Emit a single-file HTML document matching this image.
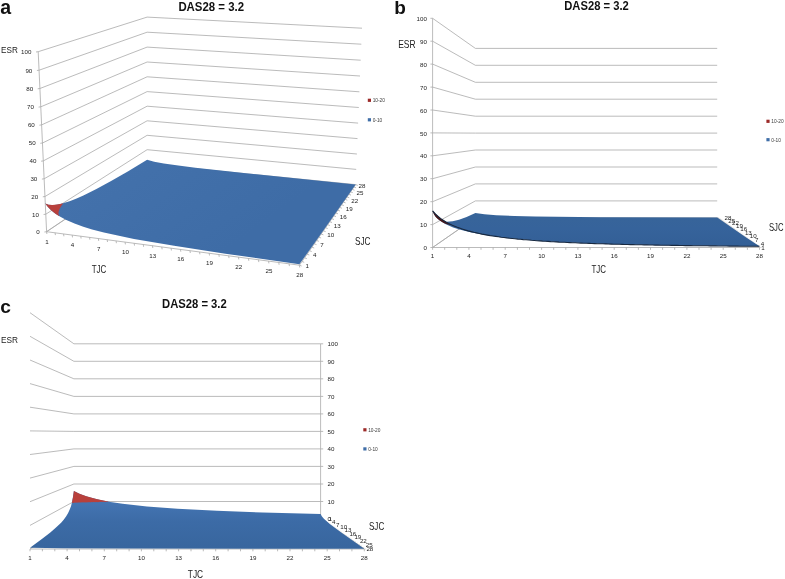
<!DOCTYPE html>
<html lang="en"><head><meta charset="utf-8"><title>DAS28 = 3.2</title>
<style>
html,body{margin:0;padding:0;background:#fff}
body{width:785px;height:579px;overflow:hidden}
svg{display:block;font-family:"Liberation Sans","DejaVu Sans",sans-serif}
</style></head><body>
<svg width="785" height="579" viewBox="0 0 785 579">
<defs>
<linearGradient id="ga" gradientUnits="userSpaceOnUse" x1="120" y1="160" x2="200" y2="270"><stop offset="0" stop-color="#4371ab"/><stop offset="1" stop-color="#3e6ca6"/></linearGradient>
<linearGradient id="gb" gradientUnits="userSpaceOnUse" x1="0" y1="210" x2="0" y2="247"><stop offset="0" stop-color="#386599"/><stop offset="0.5" stop-color="#36639b"/><stop offset="1" stop-color="#335f96"/></linearGradient>
<linearGradient id="gc" gradientUnits="userSpaceOnUse" x1="0" y1="500" x2="0" y2="548"><stop offset="0" stop-color="#4576b4"/><stop offset="0.45" stop-color="#3c6ba6"/><stop offset="1" stop-color="#38669e"/></linearGradient>
</defs>
<rect width="785" height="579" fill="#fff"/>
<g id="chart-a">
<polyline points="46.6,231.7 147.1,164 355.6,184.6" fill="none" stroke="#a9a9a9" stroke-width="0.8"/>
<line x1="44.4" y1="232" x2="46.6" y2="231.7" stroke="#a9a9a9" stroke-width="0.8"/>
<text x="39.8" y="234" font-size="6.2" text-anchor="end" font-weight="normal" fill="#1c1c1c">0</text>
<polyline points="45.8,214.2 147.1,149.7 356.2,169.4" fill="none" stroke="#a9a9a9" stroke-width="0.8"/>
<line x1="43.6" y1="214.5" x2="45.8" y2="214.2" stroke="#a9a9a9" stroke-width="0.8"/>
<text x="39" y="216.5" font-size="6.2" text-anchor="end" font-weight="normal" fill="#1c1c1c">10</text>
<polyline points="45,196.5 147.1,135.3 356.9,154" fill="none" stroke="#a9a9a9" stroke-width="0.8"/>
<line x1="42.8" y1="196.8" x2="45" y2="196.5" stroke="#a9a9a9" stroke-width="0.8"/>
<text x="38.2" y="198.8" font-size="6.2" text-anchor="end" font-weight="normal" fill="#1c1c1c">20</text>
<polyline points="44.1,178.8 147.1,120.8 357.5,138.6" fill="none" stroke="#a9a9a9" stroke-width="0.8"/>
<line x1="41.9" y1="179.1" x2="44.1" y2="178.8" stroke="#a9a9a9" stroke-width="0.8"/>
<text x="37.3" y="181.1" font-size="6.2" text-anchor="end" font-weight="normal" fill="#1c1c1c">30</text>
<polyline points="43.3,160.9 147.1,106.2 358.1,123.1" fill="none" stroke="#a9a9a9" stroke-width="0.8"/>
<line x1="41.1" y1="161.2" x2="43.3" y2="160.9" stroke="#a9a9a9" stroke-width="0.8"/>
<text x="36.5" y="163.2" font-size="6.2" text-anchor="end" font-weight="normal" fill="#1c1c1c">40</text>
<polyline points="42.5,143 147.1,91.6 358.8,107.5" fill="none" stroke="#a9a9a9" stroke-width="0.8"/>
<line x1="40.3" y1="143.3" x2="42.5" y2="143" stroke="#a9a9a9" stroke-width="0.8"/>
<text x="35.7" y="145.3" font-size="6.2" text-anchor="end" font-weight="normal" fill="#1c1c1c">50</text>
<polyline points="41.6,124.9 147.1,76.8 359.4,91.8" fill="none" stroke="#a9a9a9" stroke-width="0.8"/>
<line x1="39.4" y1="125.2" x2="41.6" y2="124.9" stroke="#a9a9a9" stroke-width="0.8"/>
<text x="34.8" y="127.2" font-size="6.2" text-anchor="end" font-weight="normal" fill="#1c1c1c">60</text>
<polyline points="40.8,106.8 147.1,62 360,76" fill="none" stroke="#a9a9a9" stroke-width="0.8"/>
<line x1="38.6" y1="107.1" x2="40.8" y2="106.8" stroke="#a9a9a9" stroke-width="0.8"/>
<text x="34" y="109.1" font-size="6.2" text-anchor="end" font-weight="normal" fill="#1c1c1c">70</text>
<polyline points="39.9,88.5 147.1,47.1 360.7,60.2" fill="none" stroke="#a9a9a9" stroke-width="0.8"/>
<line x1="37.7" y1="88.8" x2="39.9" y2="88.5" stroke="#a9a9a9" stroke-width="0.8"/>
<text x="33.1" y="90.8" font-size="6.2" text-anchor="end" font-weight="normal" fill="#1c1c1c">80</text>
<polyline points="39.1,70.2 147.1,32.2 361.3,44.2" fill="none" stroke="#a9a9a9" stroke-width="0.8"/>
<line x1="36.9" y1="70.5" x2="39.1" y2="70.2" stroke="#a9a9a9" stroke-width="0.8"/>
<text x="32.3" y="72.5" font-size="6.2" text-anchor="end" font-weight="normal" fill="#1c1c1c">90</text>
<polyline points="38.2,51.7 147.1,17.1 362,28.2" fill="none" stroke="#a9a9a9" stroke-width="0.8"/>
<line x1="36" y1="52" x2="38.2" y2="51.7" stroke="#a9a9a9" stroke-width="0.8"/>
<text x="31.4" y="54" font-size="6.2" text-anchor="end" font-weight="normal" fill="#1c1c1c">100</text>
<line x1="38.2" y1="51.7" x2="46.6" y2="231.7" stroke="#a9a9a9" stroke-width="0.8"/>
<polyline points="46.6,231.7 299.4,265.2 355.6,184.6" fill="none" stroke="#a9a9a9" stroke-width="0.8"/>
<line x1="46.6" y1="231.7" x2="147.1" y2="164" stroke="#a9a9a9" stroke-width="0.8"/>
<line x1="46.6" y1="231.7" x2="46.9" y2="234" stroke="#a9a9a9" stroke-width="0.8"/>
<text x="46.9" y="243.6" font-size="6.2" text-anchor="middle" font-weight="normal" fill="#1c1c1c">1</text>
<line x1="55.1" y1="232.8" x2="55.4" y2="235.1" stroke="#a9a9a9" stroke-width="0.8"/>
<line x1="63.6" y1="234" x2="63.9" y2="236.3" stroke="#a9a9a9" stroke-width="0.8"/>
<line x1="72.2" y1="235.1" x2="72.5" y2="237.4" stroke="#a9a9a9" stroke-width="0.8"/>
<text x="72.5" y="247" font-size="6.2" text-anchor="middle" font-weight="normal" fill="#1c1c1c">4</text>
<line x1="80.8" y1="236.2" x2="81.1" y2="238.5" stroke="#a9a9a9" stroke-width="0.8"/>
<line x1="89.6" y1="237.4" x2="89.9" y2="239.7" stroke="#a9a9a9" stroke-width="0.8"/>
<line x1="98.4" y1="238.6" x2="98.7" y2="240.9" stroke="#a9a9a9" stroke-width="0.8"/>
<text x="98.7" y="250.5" font-size="6.2" text-anchor="middle" font-weight="normal" fill="#1c1c1c">7</text>
<line x1="107.2" y1="239.7" x2="107.5" y2="242" stroke="#a9a9a9" stroke-width="0.8"/>
<line x1="116.1" y1="240.9" x2="116.4" y2="243.2" stroke="#a9a9a9" stroke-width="0.8"/>
<line x1="125.1" y1="242.1" x2="125.4" y2="244.4" stroke="#a9a9a9" stroke-width="0.8"/>
<text x="125.4" y="254" font-size="6.2" text-anchor="middle" font-weight="normal" fill="#1c1c1c">10</text>
<line x1="134.2" y1="243.3" x2="134.5" y2="245.6" stroke="#a9a9a9" stroke-width="0.8"/>
<line x1="143.3" y1="244.5" x2="143.6" y2="246.8" stroke="#a9a9a9" stroke-width="0.8"/>
<line x1="152.5" y1="245.7" x2="152.8" y2="248" stroke="#a9a9a9" stroke-width="0.8"/>
<text x="152.8" y="257.6" font-size="6.2" text-anchor="middle" font-weight="normal" fill="#1c1c1c">13</text>
<line x1="161.8" y1="247" x2="162.1" y2="249.3" stroke="#a9a9a9" stroke-width="0.8"/>
<line x1="171.1" y1="248.2" x2="171.4" y2="250.5" stroke="#a9a9a9" stroke-width="0.8"/>
<line x1="180.5" y1="249.4" x2="180.8" y2="251.7" stroke="#a9a9a9" stroke-width="0.8"/>
<text x="180.8" y="261.3" font-size="6.2" text-anchor="middle" font-weight="normal" fill="#1c1c1c">16</text>
<line x1="190" y1="250.7" x2="190.3" y2="253" stroke="#a9a9a9" stroke-width="0.8"/>
<line x1="199.6" y1="252" x2="199.9" y2="254.3" stroke="#a9a9a9" stroke-width="0.8"/>
<line x1="209.2" y1="253.2" x2="209.5" y2="255.5" stroke="#a9a9a9" stroke-width="0.8"/>
<text x="209.5" y="265.1" font-size="6.2" text-anchor="middle" font-weight="normal" fill="#1c1c1c">19</text>
<line x1="218.9" y1="254.5" x2="219.2" y2="256.8" stroke="#a9a9a9" stroke-width="0.8"/>
<line x1="228.7" y1="255.8" x2="229" y2="258.1" stroke="#a9a9a9" stroke-width="0.8"/>
<line x1="238.5" y1="257.1" x2="238.8" y2="259.4" stroke="#a9a9a9" stroke-width="0.8"/>
<text x="238.8" y="269" font-size="6.2" text-anchor="middle" font-weight="normal" fill="#1c1c1c">22</text>
<line x1="248.5" y1="258.5" x2="248.8" y2="260.8" stroke="#a9a9a9" stroke-width="0.8"/>
<line x1="258.5" y1="259.8" x2="258.8" y2="262.1" stroke="#a9a9a9" stroke-width="0.8"/>
<line x1="268.6" y1="261.1" x2="268.9" y2="263.4" stroke="#a9a9a9" stroke-width="0.8"/>
<text x="268.9" y="273" font-size="6.2" text-anchor="middle" font-weight="normal" fill="#1c1c1c">25</text>
<line x1="278.8" y1="262.5" x2="279.1" y2="264.8" stroke="#a9a9a9" stroke-width="0.8"/>
<line x1="289.1" y1="263.8" x2="289.4" y2="266.1" stroke="#a9a9a9" stroke-width="0.8"/>
<line x1="299.4" y1="265.2" x2="299.7" y2="267.5" stroke="#a9a9a9" stroke-width="0.8"/>
<text x="299.7" y="277.1" font-size="6.2" text-anchor="middle" font-weight="normal" fill="#1c1c1c">28</text>
<line x1="299.4" y1="265.2" x2="301.6" y2="266" stroke="#a9a9a9" stroke-width="0.8"/>
<text x="305.4" y="268.3" font-size="6.2" text-anchor="start" font-weight="normal" fill="#1c1c1c">1</text>
<line x1="302" y1="261.5" x2="304.2" y2="262.3" stroke="#a9a9a9" stroke-width="0.8"/>
<line x1="304.6" y1="257.8" x2="306.8" y2="258.6" stroke="#a9a9a9" stroke-width="0.8"/>
<line x1="307.1" y1="254.2" x2="309.3" y2="255" stroke="#a9a9a9" stroke-width="0.8"/>
<text x="313.1" y="257.3" font-size="6.2" text-anchor="start" font-weight="normal" fill="#1c1c1c">4</text>
<line x1="309.5" y1="250.7" x2="311.7" y2="251.5" stroke="#a9a9a9" stroke-width="0.8"/>
<line x1="312" y1="247.2" x2="314.2" y2="248" stroke="#a9a9a9" stroke-width="0.8"/>
<line x1="314.3" y1="243.8" x2="316.5" y2="244.6" stroke="#a9a9a9" stroke-width="0.8"/>
<text x="320.3" y="246.9" font-size="6.2" text-anchor="start" font-weight="normal" fill="#1c1c1c">7</text>
<line x1="316.7" y1="240.5" x2="318.9" y2="241.3" stroke="#a9a9a9" stroke-width="0.8"/>
<line x1="318.9" y1="237.2" x2="321.1" y2="238" stroke="#a9a9a9" stroke-width="0.8"/>
<line x1="321.2" y1="234" x2="323.4" y2="234.8" stroke="#a9a9a9" stroke-width="0.8"/>
<text x="327.2" y="237.1" font-size="6.2" text-anchor="start" font-weight="normal" fill="#1c1c1c">10</text>
<line x1="323.4" y1="230.8" x2="325.6" y2="231.6" stroke="#a9a9a9" stroke-width="0.8"/>
<line x1="325.5" y1="227.7" x2="327.7" y2="228.5" stroke="#a9a9a9" stroke-width="0.8"/>
<line x1="327.7" y1="224.7" x2="329.9" y2="225.5" stroke="#a9a9a9" stroke-width="0.8"/>
<text x="333.7" y="227.8" font-size="6.2" text-anchor="start" font-weight="normal" fill="#1c1c1c">13</text>
<line x1="329.8" y1="221.7" x2="332" y2="222.5" stroke="#a9a9a9" stroke-width="0.8"/>
<line x1="331.8" y1="218.7" x2="334" y2="219.5" stroke="#a9a9a9" stroke-width="0.8"/>
<line x1="333.8" y1="215.8" x2="336" y2="216.6" stroke="#a9a9a9" stroke-width="0.8"/>
<text x="339.8" y="218.9" font-size="6.2" text-anchor="start" font-weight="normal" fill="#1c1c1c">16</text>
<line x1="335.8" y1="213" x2="338" y2="213.8" stroke="#a9a9a9" stroke-width="0.8"/>
<line x1="337.8" y1="210.2" x2="340" y2="211" stroke="#a9a9a9" stroke-width="0.8"/>
<line x1="339.7" y1="207.4" x2="341.9" y2="208.2" stroke="#a9a9a9" stroke-width="0.8"/>
<text x="345.7" y="210.5" font-size="6.2" text-anchor="start" font-weight="normal" fill="#1c1c1c">19</text>
<line x1="341.6" y1="204.7" x2="343.8" y2="205.5" stroke="#a9a9a9" stroke-width="0.8"/>
<line x1="343.4" y1="202.1" x2="345.6" y2="202.9" stroke="#a9a9a9" stroke-width="0.8"/>
<line x1="345.2" y1="199.4" x2="347.4" y2="200.2" stroke="#a9a9a9" stroke-width="0.8"/>
<text x="351.2" y="202.5" font-size="6.2" text-anchor="start" font-weight="normal" fill="#1c1c1c">22</text>
<line x1="347" y1="196.9" x2="349.2" y2="197.7" stroke="#a9a9a9" stroke-width="0.8"/>
<line x1="348.8" y1="194.3" x2="351" y2="195.1" stroke="#a9a9a9" stroke-width="0.8"/>
<line x1="350.5" y1="191.8" x2="352.7" y2="192.6" stroke="#a9a9a9" stroke-width="0.8"/>
<text x="356.5" y="194.9" font-size="6.2" text-anchor="start" font-weight="normal" fill="#1c1c1c">25</text>
<line x1="352.3" y1="189.4" x2="354.5" y2="190.2" stroke="#a9a9a9" stroke-width="0.8"/>
<line x1="353.9" y1="187" x2="356.1" y2="187.8" stroke="#a9a9a9" stroke-width="0.8"/>
<line x1="355.6" y1="184.6" x2="357.8" y2="185.4" stroke="#a9a9a9" stroke-width="0.8"/>
<text x="358.6" y="187.7" font-size="6.2" text-anchor="start" font-weight="normal" fill="#1c1c1c">28</text>
<path d="M83.4 195.4 L76.6 198.4 L69.6 201.2 L63.8 203.1 L59.3 204.2 L54.8 204.9 L51.7 205.1 L48.5 204.7 L45.2 203.6 L48.2 207.3 L51.2 210.2 L54.1 212.7 L59.9 216.6 L65.8 219.8 L74.5 223.6 L83.3 226.7 L92.1 229.4 L103.9 232.5 L118.9 235.8 L134 238.9 L174.1 245.8 L225.4 253.7 L299.4 264.3 L316.7 240 L355.7 184.5 L248.3 173.5 L195.4 167.7 L178.3 165.6 L163.8 163.5 L154.2 161.7 L147.1 159.8 L128.2 171.2 L111.1 181 L96.4 189Z" fill="url(#ga)"/>
<path d="M45.3 203.5 L47.9 207 L51.4 210.5 L55.8 214 L58.9 216 L59.2 216.1 L59.1 215.8 L59.3 215.7 L58.7 215 L58.9 214.9 L58.5 214.5 L58.7 214.4 L58.5 214.2 L58.8 214 L58.3 213.5 L58.6 213.5 L58.3 213.2 L58.7 213.1 L58.4 212.9 L58.7 212.8 L58.4 212.5 L58.7 212.4 L58.4 212.2 L58.7 212.1 L58.4 211.8 L58.8 211.7 L58.5 211.5 L59 211.3 L58.7 211 L59.1 210.9 L58.8 210.7 L59.1 210.5 L58.8 210.3 L59.3 210.2 L59 209.8 L59.6 209.7 L59.3 209.4 L59.6 209.2 L59.3 209 L59.8 208.8 L59.6 208.5 L60.1 208.3 L59.8 208 L60.4 207.8 L60.1 207.5 L60.8 207.3 L60.5 207 L61.1 206.7 L60.8 206.4 L61.3 206.3 L61 205.9 L61.8 205.7 L61.5 205.3 L62.2 205.1 L61.9 204.7 L62.7 204.5 L62.4 204.1 L63.2 203.9 L62.8 203.4 L57.1 204.6 L52.5 205 L48.5 204.7Z" fill="#b8403c"/>
</g>
<g id="chart-b">
<polyline points="432.6,247.5 475.4,217.8 717.2,217.8" fill="none" stroke="#a9a9a9" stroke-width="0.8"/>
<line x1="430.4" y1="247.5" x2="432.6" y2="247.5" stroke="#a9a9a9" stroke-width="0.8"/>
<text x="426.9" y="250.1" font-size="6.2" text-anchor="end" font-weight="normal" fill="#1c1c1c">0</text>
<polyline points="432.6,224.6 475.4,200.9 717.2,200.9" fill="none" stroke="#a9a9a9" stroke-width="0.8"/>
<line x1="430.4" y1="224.6" x2="432.6" y2="224.6" stroke="#a9a9a9" stroke-width="0.8"/>
<text x="426.9" y="227.2" font-size="6.2" text-anchor="end" font-weight="normal" fill="#1c1c1c">10</text>
<polyline points="432.6,201.7 475.4,183.9 717.2,183.9" fill="none" stroke="#a9a9a9" stroke-width="0.8"/>
<line x1="430.4" y1="201.7" x2="432.6" y2="201.7" stroke="#a9a9a9" stroke-width="0.8"/>
<text x="426.9" y="204.3" font-size="6.2" text-anchor="end" font-weight="normal" fill="#1c1c1c">20</text>
<polyline points="432.6,178.7 475.4,167 717.2,167" fill="none" stroke="#a9a9a9" stroke-width="0.8"/>
<line x1="430.4" y1="178.7" x2="432.6" y2="178.7" stroke="#a9a9a9" stroke-width="0.8"/>
<text x="426.9" y="181.3" font-size="6.2" text-anchor="end" font-weight="normal" fill="#1c1c1c">30</text>
<polyline points="432.6,155.8 475.4,150 717.2,150" fill="none" stroke="#a9a9a9" stroke-width="0.8"/>
<line x1="430.4" y1="155.8" x2="432.6" y2="155.8" stroke="#a9a9a9" stroke-width="0.8"/>
<text x="426.9" y="158.4" font-size="6.2" text-anchor="end" font-weight="normal" fill="#1c1c1c">40</text>
<polyline points="432.6,132.9 475.4,133.1 717.2,133.1" fill="none" stroke="#a9a9a9" stroke-width="0.8"/>
<line x1="430.4" y1="132.9" x2="432.6" y2="132.9" stroke="#a9a9a9" stroke-width="0.8"/>
<text x="426.9" y="135.5" font-size="6.2" text-anchor="end" font-weight="normal" fill="#1c1c1c">50</text>
<polyline points="432.6,110 475.4,116.2 717.2,116.2" fill="none" stroke="#a9a9a9" stroke-width="0.8"/>
<line x1="430.4" y1="110" x2="432.6" y2="110" stroke="#a9a9a9" stroke-width="0.8"/>
<text x="426.9" y="112.6" font-size="6.2" text-anchor="end" font-weight="normal" fill="#1c1c1c">60</text>
<polyline points="432.6,87.1 475.4,99.2 717.2,99.2" fill="none" stroke="#a9a9a9" stroke-width="0.8"/>
<line x1="430.4" y1="87.1" x2="432.6" y2="87.1" stroke="#a9a9a9" stroke-width="0.8"/>
<text x="426.9" y="89.7" font-size="6.2" text-anchor="end" font-weight="normal" fill="#1c1c1c">70</text>
<polyline points="432.6,64.1 475.4,82.3 717.2,82.3" fill="none" stroke="#a9a9a9" stroke-width="0.8"/>
<line x1="430.4" y1="64.1" x2="432.6" y2="64.1" stroke="#a9a9a9" stroke-width="0.8"/>
<text x="426.9" y="66.7" font-size="6.2" text-anchor="end" font-weight="normal" fill="#1c1c1c">80</text>
<polyline points="432.6,41.2 475.4,65.3 717.2,65.3" fill="none" stroke="#a9a9a9" stroke-width="0.8"/>
<line x1="430.4" y1="41.2" x2="432.6" y2="41.2" stroke="#a9a9a9" stroke-width="0.8"/>
<text x="426.9" y="43.8" font-size="6.2" text-anchor="end" font-weight="normal" fill="#1c1c1c">90</text>
<polyline points="432.6,18.3 475.4,48.4 717.2,48.4" fill="none" stroke="#a9a9a9" stroke-width="0.8"/>
<line x1="430.4" y1="18.3" x2="432.6" y2="18.3" stroke="#a9a9a9" stroke-width="0.8"/>
<text x="426.9" y="20.9" font-size="6.2" text-anchor="end" font-weight="normal" fill="#1c1c1c">100</text>
<line x1="432.6" y1="18.3" x2="432.6" y2="247.5" stroke="#a9a9a9" stroke-width="0.8"/>
<polyline points="432.6,247.5 759.5,247.5 717.2,217.8" fill="none" stroke="#a9a9a9" stroke-width="0.8"/>
<line x1="432.6" y1="247.5" x2="475.4" y2="217.8" stroke="#a9a9a9" stroke-width="0.8"/>
<line x1="432.6" y1="247.5" x2="432.6" y2="249.8" stroke="#a9a9a9" stroke-width="0.8"/>
<text x="432.6" y="258.1" font-size="6.2" text-anchor="middle" font-weight="normal" fill="#1c1c1c">1</text>
<line x1="444.7" y1="247.5" x2="444.7" y2="249.8" stroke="#a9a9a9" stroke-width="0.8"/>
<line x1="456.8" y1="247.5" x2="456.8" y2="249.8" stroke="#a9a9a9" stroke-width="0.8"/>
<line x1="468.9" y1="247.5" x2="468.9" y2="249.8" stroke="#a9a9a9" stroke-width="0.8"/>
<text x="468.9" y="258.1" font-size="6.2" text-anchor="middle" font-weight="normal" fill="#1c1c1c">4</text>
<line x1="481" y1="247.5" x2="481" y2="249.8" stroke="#a9a9a9" stroke-width="0.8"/>
<line x1="493.1" y1="247.5" x2="493.1" y2="249.8" stroke="#a9a9a9" stroke-width="0.8"/>
<line x1="505.2" y1="247.5" x2="505.2" y2="249.8" stroke="#a9a9a9" stroke-width="0.8"/>
<text x="505.2" y="258.1" font-size="6.2" text-anchor="middle" font-weight="normal" fill="#1c1c1c">7</text>
<line x1="517.4" y1="247.5" x2="517.4" y2="249.8" stroke="#a9a9a9" stroke-width="0.8"/>
<line x1="529.5" y1="247.5" x2="529.5" y2="249.8" stroke="#a9a9a9" stroke-width="0.8"/>
<line x1="541.6" y1="247.5" x2="541.6" y2="249.8" stroke="#a9a9a9" stroke-width="0.8"/>
<text x="541.6" y="258.1" font-size="6.2" text-anchor="middle" font-weight="normal" fill="#1c1c1c">10</text>
<line x1="553.7" y1="247.5" x2="553.7" y2="249.8" stroke="#a9a9a9" stroke-width="0.8"/>
<line x1="565.8" y1="247.5" x2="565.8" y2="249.8" stroke="#a9a9a9" stroke-width="0.8"/>
<line x1="577.9" y1="247.5" x2="577.9" y2="249.8" stroke="#a9a9a9" stroke-width="0.8"/>
<text x="577.9" y="258.1" font-size="6.2" text-anchor="middle" font-weight="normal" fill="#1c1c1c">13</text>
<line x1="590" y1="247.5" x2="590" y2="249.8" stroke="#a9a9a9" stroke-width="0.8"/>
<line x1="602.1" y1="247.5" x2="602.1" y2="249.8" stroke="#a9a9a9" stroke-width="0.8"/>
<line x1="614.2" y1="247.5" x2="614.2" y2="249.8" stroke="#a9a9a9" stroke-width="0.8"/>
<text x="614.2" y="258.1" font-size="6.2" text-anchor="middle" font-weight="normal" fill="#1c1c1c">16</text>
<line x1="626.3" y1="247.5" x2="626.3" y2="249.8" stroke="#a9a9a9" stroke-width="0.8"/>
<line x1="638.4" y1="247.5" x2="638.4" y2="249.8" stroke="#a9a9a9" stroke-width="0.8"/>
<line x1="650.5" y1="247.5" x2="650.5" y2="249.8" stroke="#a9a9a9" stroke-width="0.8"/>
<text x="650.5" y="258.1" font-size="6.2" text-anchor="middle" font-weight="normal" fill="#1c1c1c">19</text>
<line x1="662.6" y1="247.5" x2="662.6" y2="249.8" stroke="#a9a9a9" stroke-width="0.8"/>
<line x1="674.7" y1="247.5" x2="674.7" y2="249.8" stroke="#a9a9a9" stroke-width="0.8"/>
<line x1="686.9" y1="247.5" x2="686.9" y2="249.8" stroke="#a9a9a9" stroke-width="0.8"/>
<text x="686.9" y="258.1" font-size="6.2" text-anchor="middle" font-weight="normal" fill="#1c1c1c">22</text>
<line x1="699" y1="247.5" x2="699" y2="249.8" stroke="#a9a9a9" stroke-width="0.8"/>
<line x1="711.1" y1="247.5" x2="711.1" y2="249.8" stroke="#a9a9a9" stroke-width="0.8"/>
<line x1="723.2" y1="247.5" x2="723.2" y2="249.8" stroke="#a9a9a9" stroke-width="0.8"/>
<text x="723.2" y="258.1" font-size="6.2" text-anchor="middle" font-weight="normal" fill="#1c1c1c">25</text>
<line x1="735.3" y1="247.5" x2="735.3" y2="249.8" stroke="#a9a9a9" stroke-width="0.8"/>
<line x1="747.4" y1="247.5" x2="747.4" y2="249.8" stroke="#a9a9a9" stroke-width="0.8"/>
<line x1="759.5" y1="247.5" x2="759.5" y2="249.8" stroke="#a9a9a9" stroke-width="0.8"/>
<text x="759.5" y="258.1" font-size="6.2" text-anchor="middle" font-weight="normal" fill="#1c1c1c">28</text>
<line x1="759.5" y1="247.5" x2="761.5" y2="247.5" stroke="#c4c4c4" stroke-width="0.6"/>
<text x="761.3" y="249.9" font-size="6.2" text-anchor="start" font-weight="normal" fill="#1c1c1c">1</text>
<line x1="757.4" y1="246" x2="759.4" y2="246" stroke="#c4c4c4" stroke-width="0.6"/>
<line x1="755.4" y1="244.6" x2="757.4" y2="244.6" stroke="#c4c4c4" stroke-width="0.6"/>
<line x1="753.4" y1="243.2" x2="755.4" y2="243.2" stroke="#c4c4c4" stroke-width="0.6"/>
<text x="760.8" y="245.6" font-size="6.2" text-anchor="start" font-weight="normal" fill="#1c1c1c">4</text>
<line x1="751.4" y1="241.8" x2="753.4" y2="241.8" stroke="#c4c4c4" stroke-width="0.6"/>
<line x1="749.6" y1="240.5" x2="751.6" y2="240.5" stroke="#c4c4c4" stroke-width="0.6"/>
<line x1="747.7" y1="239.2" x2="749.7" y2="239.2" stroke="#c4c4c4" stroke-width="0.6"/>
<text x="755.1" y="241.6" font-size="6.2" text-anchor="start" font-weight="normal" fill="#1c1c1c">7</text>
<line x1="745.9" y1="238" x2="747.9" y2="238" stroke="#c4c4c4" stroke-width="0.6"/>
<line x1="744.2" y1="236.7" x2="746.2" y2="236.7" stroke="#c4c4c4" stroke-width="0.6"/>
<line x1="742.4" y1="235.5" x2="744.4" y2="235.5" stroke="#c4c4c4" stroke-width="0.6"/>
<text x="749.8" y="237.9" font-size="6.2" text-anchor="start" font-weight="normal" fill="#1c1c1c">10</text>
<line x1="740.8" y1="234.3" x2="742.8" y2="234.3" stroke="#c4c4c4" stroke-width="0.6"/>
<line x1="739.1" y1="233.2" x2="741.1" y2="233.2" stroke="#c4c4c4" stroke-width="0.6"/>
<line x1="737.5" y1="232.1" x2="739.5" y2="232.1" stroke="#c4c4c4" stroke-width="0.6"/>
<text x="744.9" y="234.5" font-size="6.2" text-anchor="start" font-weight="normal" fill="#1c1c1c">13</text>
<line x1="736" y1="231" x2="738" y2="231" stroke="#c4c4c4" stroke-width="0.6"/>
<line x1="734.4" y1="229.9" x2="736.4" y2="229.9" stroke="#c4c4c4" stroke-width="0.6"/>
<line x1="732.9" y1="228.8" x2="734.9" y2="228.8" stroke="#c4c4c4" stroke-width="0.6"/>
<text x="740.3" y="231.2" font-size="6.2" text-anchor="start" font-weight="normal" fill="#1c1c1c">16</text>
<line x1="731.5" y1="227.8" x2="733.5" y2="227.8" stroke="#c4c4c4" stroke-width="0.6"/>
<line x1="730" y1="226.8" x2="732" y2="226.8" stroke="#c4c4c4" stroke-width="0.6"/>
<line x1="728.6" y1="225.8" x2="730.6" y2="225.8" stroke="#c4c4c4" stroke-width="0.6"/>
<text x="736" y="228.2" font-size="6.2" text-anchor="start" font-weight="normal" fill="#1c1c1c">19</text>
<line x1="727.2" y1="224.9" x2="729.2" y2="224.9" stroke="#c4c4c4" stroke-width="0.6"/>
<line x1="725.9" y1="223.9" x2="727.9" y2="223.9" stroke="#c4c4c4" stroke-width="0.6"/>
<line x1="724.6" y1="223" x2="726.6" y2="223" stroke="#c4c4c4" stroke-width="0.6"/>
<text x="732" y="225.4" font-size="6.2" text-anchor="start" font-weight="normal" fill="#1c1c1c">22</text>
<line x1="723.3" y1="222.1" x2="725.3" y2="222.1" stroke="#c4c4c4" stroke-width="0.6"/>
<line x1="722" y1="221.2" x2="724" y2="221.2" stroke="#c4c4c4" stroke-width="0.6"/>
<line x1="720.8" y1="220.3" x2="722.8" y2="220.3" stroke="#c4c4c4" stroke-width="0.6"/>
<text x="728.2" y="222.7" font-size="6.2" text-anchor="start" font-weight="normal" fill="#1c1c1c">25</text>
<line x1="719.6" y1="219.5" x2="721.6" y2="219.5" stroke="#c4c4c4" stroke-width="0.6"/>
<line x1="718.4" y1="218.6" x2="720.4" y2="218.6" stroke="#c4c4c4" stroke-width="0.6"/>
<line x1="717.2" y1="217.8" x2="719.2" y2="217.8" stroke="#c4c4c4" stroke-width="0.6"/>
<text x="724.6" y="220.2" font-size="6.2" text-anchor="start" font-weight="normal" fill="#1c1c1c">28</text>
<path d="M435.4 216.4 L438.1 219.2 L441.3 221.6 L445.3 223.9 L453.1 227.4 L460.4 229.8 L471.6 232.6 L486.5 235.3 L502 237.4 L517.7 239.1 L537.5 240.8 L557.7 242 L606.1 244 L674.7 245.5 L759.5 246.3 L745.4 237 L717.2 217.6 L600.8 217.3 L535.1 216.6 L514.2 216 L496.3 215.2 L484.4 214.3 L475.4 212.9 L466.6 216.9 L459 219.7 L452.7 221.3 L446.9 221.8 L445.7 221.7 L440.7 218.4 L436.7 215.1 L432.6 210.8 L434 214.2Z" fill="url(#gb)"/>
<path d="M432.8 211.8 L434.1 214.6 L435.8 217 L437.3 218.6 L440.5 221 L442.9 222.6 L445 223.6 L448.3 224.5 L448.8 224.4 L449.6 224.7 L449.7 224.6 L451 225 L451.1 224.8 L451.5 225 L451.4 224.7 L444.7 221.1 L440.5 218.3 L436.3 214.7 L432.6 210.8Z" fill="#4a1616"/>
<polyline points="432.6,210.9 435.3,213.9 438.1,216.4 440.8,218.6 443.6,220.5 446.3,222.2 449.1,223.7 451.8,225 454.6,226.2 457.3,227.3 460.1,228.3 462.8,229.2 465.6,230.1 468.3,230.9 471.1,231.6 473.8,232.3 476.6,232.9 479.3,233.5 482,234.1 484.8,234.6 487.5,235.1 490.3,235.6 493,236 495.8,236.4 498.5,236.8 501.3,237.2 504,237.5 506.8,237.9 509.5,238.2 512.3,238.5 515,238.8 517.8,239.1 520.5,239.3 523.3,239.6 526,239.8 528.7,240 531.5,240.3 534.2,240.5 537,240.7 539.7,240.9 542.5,241.1 545.2,241.2 548,241.4 550.7,241.6 553.5,241.7 556.2,241.9 559,242.1 561.7,242.2 564.5,242.3 567.2,242.5 570,242.6 572.7,242.7 575.4,242.8 578.2,243 580.9,243.1 583.7,243.2 586.4,243.3 589.2,243.4 591.9,243.5 594.7,243.6 597.4,243.7 600.2,243.8 602.9,243.8 605.7,243.9 608.4,244 611.2,244.1 613.9,244.2 616.7,244.2 619.4,244.3 622.1,244.4 624.9,244.5 627.6,244.5 630.4,244.6 633.1,244.6 635.9,244.7 638.6,244.8 641.4,244.8 644.1,244.9 646.9,244.9 649.6,245 652.4,245 655.1,245.1 657.9,245.1 660.6,245.2 663.4,245.2 666.1,245.3 668.8,245.3 671.6,245.4 674.3,245.4 677.1,245.4 679.8,245.5 682.6,245.5 685.3,245.6 688.1,245.6 690.8,245.6 693.6,245.7 696.3,245.7 699.1,245.7 701.8,245.8 704.6,245.8 707.3,245.8 710.1,245.9 712.8,245.9 715.5,245.9 718.3,246 721,246 723.8,246 726.5,246 729.3,246.1 732,246.1 734.8,246.1 737.5,246.1 740.3,246.2 743,246.2 745.8,246.2 748.5,246.2 751.3,246.3 754,246.3 756.8,246.3 759.5,246.3" fill="none" stroke="#182940" stroke-width="1.1"/>
</g>
<g id="chart-c">
<polyline points="30,549 73.9,519 320.6,519" fill="none" stroke="#a9a9a9" stroke-width="0.8"/>
<line x1="320.6" y1="519" x2="323.2" y2="519" stroke="#a9a9a9" stroke-width="0.8"/>
<text x="327.6" y="521.3" font-size="6.2" text-anchor="start" font-weight="normal" fill="#1c1c1c">0</text>
<polyline points="30,525.4 73.9,501.5 320.6,501.5" fill="none" stroke="#a9a9a9" stroke-width="0.8"/>
<line x1="320.6" y1="501.5" x2="323.2" y2="501.5" stroke="#a9a9a9" stroke-width="0.8"/>
<text x="327.6" y="503.8" font-size="6.2" text-anchor="start" font-weight="normal" fill="#1c1c1c">10</text>
<polyline points="30,501.7 73.9,484 320.6,484" fill="none" stroke="#a9a9a9" stroke-width="0.8"/>
<line x1="320.6" y1="484" x2="323.2" y2="484" stroke="#a9a9a9" stroke-width="0.8"/>
<text x="327.6" y="486.3" font-size="6.2" text-anchor="start" font-weight="normal" fill="#1c1c1c">20</text>
<polyline points="30,478.1 73.9,466.4 320.6,466.4" fill="none" stroke="#a9a9a9" stroke-width="0.8"/>
<line x1="320.6" y1="466.4" x2="323.2" y2="466.4" stroke="#a9a9a9" stroke-width="0.8"/>
<text x="327.6" y="468.7" font-size="6.2" text-anchor="start" font-weight="normal" fill="#1c1c1c">30</text>
<polyline points="30,454.5 73.9,448.9 320.6,448.9" fill="none" stroke="#a9a9a9" stroke-width="0.8"/>
<line x1="320.6" y1="448.9" x2="323.2" y2="448.9" stroke="#a9a9a9" stroke-width="0.8"/>
<text x="327.6" y="451.2" font-size="6.2" text-anchor="start" font-weight="normal" fill="#1c1c1c">40</text>
<polyline points="30,430.9 73.9,431.4 320.6,431.4" fill="none" stroke="#a9a9a9" stroke-width="0.8"/>
<line x1="320.6" y1="431.4" x2="323.2" y2="431.4" stroke="#a9a9a9" stroke-width="0.8"/>
<text x="327.6" y="433.7" font-size="6.2" text-anchor="start" font-weight="normal" fill="#1c1c1c">50</text>
<polyline points="30,407.2 73.9,413.9 320.6,413.9" fill="none" stroke="#a9a9a9" stroke-width="0.8"/>
<line x1="320.6" y1="413.9" x2="323.2" y2="413.9" stroke="#a9a9a9" stroke-width="0.8"/>
<text x="327.6" y="416.2" font-size="6.2" text-anchor="start" font-weight="normal" fill="#1c1c1c">60</text>
<polyline points="30,383.6 73.9,396.4 320.6,396.4" fill="none" stroke="#a9a9a9" stroke-width="0.8"/>
<line x1="320.6" y1="396.4" x2="323.2" y2="396.4" stroke="#a9a9a9" stroke-width="0.8"/>
<text x="327.6" y="398.7" font-size="6.2" text-anchor="start" font-weight="normal" fill="#1c1c1c">70</text>
<polyline points="30,360 73.9,378.8 320.6,378.8" fill="none" stroke="#a9a9a9" stroke-width="0.8"/>
<line x1="320.6" y1="378.8" x2="323.2" y2="378.8" stroke="#a9a9a9" stroke-width="0.8"/>
<text x="327.6" y="381.1" font-size="6.2" text-anchor="start" font-weight="normal" fill="#1c1c1c">80</text>
<polyline points="30,336.3 73.9,361.3 320.6,361.3" fill="none" stroke="#a9a9a9" stroke-width="0.8"/>
<line x1="320.6" y1="361.3" x2="323.2" y2="361.3" stroke="#a9a9a9" stroke-width="0.8"/>
<text x="327.6" y="363.6" font-size="6.2" text-anchor="start" font-weight="normal" fill="#1c1c1c">90</text>
<polyline points="30,312.7 73.9,343.8 320.6,343.8" fill="none" stroke="#a9a9a9" stroke-width="0.8"/>
<line x1="320.6" y1="343.8" x2="323.2" y2="343.8" stroke="#a9a9a9" stroke-width="0.8"/>
<text x="327.6" y="346.1" font-size="6.2" text-anchor="start" font-weight="normal" fill="#1c1c1c">100</text>
<line x1="320.6" y1="343.8" x2="320.6" y2="519" stroke="#a9a9a9" stroke-width="0.8"/>
<polyline points="30,549 364.3,549 320.6,519" fill="none" stroke="#a9a9a9" stroke-width="0.8"/>
<line x1="30" y1="549" x2="30" y2="551.3" stroke="#a9a9a9" stroke-width="0.8"/>
<text x="30" y="560.3" font-size="6.2" text-anchor="middle" font-weight="normal" fill="#1c1c1c">1</text>
<line x1="42.4" y1="549" x2="42.4" y2="551.3" stroke="#a9a9a9" stroke-width="0.8"/>
<line x1="54.8" y1="549" x2="54.8" y2="551.3" stroke="#a9a9a9" stroke-width="0.8"/>
<line x1="67.1" y1="549" x2="67.1" y2="551.3" stroke="#a9a9a9" stroke-width="0.8"/>
<text x="67.1" y="560.3" font-size="6.2" text-anchor="middle" font-weight="normal" fill="#1c1c1c">4</text>
<line x1="79.5" y1="549" x2="79.5" y2="551.3" stroke="#a9a9a9" stroke-width="0.8"/>
<line x1="91.9" y1="549" x2="91.9" y2="551.3" stroke="#a9a9a9" stroke-width="0.8"/>
<line x1="104.3" y1="549" x2="104.3" y2="551.3" stroke="#a9a9a9" stroke-width="0.8"/>
<text x="104.3" y="560.3" font-size="6.2" text-anchor="middle" font-weight="normal" fill="#1c1c1c">7</text>
<line x1="116.7" y1="549" x2="116.7" y2="551.3" stroke="#a9a9a9" stroke-width="0.8"/>
<line x1="129.1" y1="549" x2="129.1" y2="551.3" stroke="#a9a9a9" stroke-width="0.8"/>
<line x1="141.4" y1="549" x2="141.4" y2="551.3" stroke="#a9a9a9" stroke-width="0.8"/>
<text x="141.4" y="560.3" font-size="6.2" text-anchor="middle" font-weight="normal" fill="#1c1c1c">10</text>
<line x1="153.8" y1="549" x2="153.8" y2="551.3" stroke="#a9a9a9" stroke-width="0.8"/>
<line x1="166.2" y1="549" x2="166.2" y2="551.3" stroke="#a9a9a9" stroke-width="0.8"/>
<line x1="178.6" y1="549" x2="178.6" y2="551.3" stroke="#a9a9a9" stroke-width="0.8"/>
<text x="178.6" y="560.3" font-size="6.2" text-anchor="middle" font-weight="normal" fill="#1c1c1c">13</text>
<line x1="191" y1="549" x2="191" y2="551.3" stroke="#a9a9a9" stroke-width="0.8"/>
<line x1="203.3" y1="549" x2="203.3" y2="551.3" stroke="#a9a9a9" stroke-width="0.8"/>
<line x1="215.7" y1="549" x2="215.7" y2="551.3" stroke="#a9a9a9" stroke-width="0.8"/>
<text x="215.7" y="560.3" font-size="6.2" text-anchor="middle" font-weight="normal" fill="#1c1c1c">16</text>
<line x1="228.1" y1="549" x2="228.1" y2="551.3" stroke="#a9a9a9" stroke-width="0.8"/>
<line x1="240.5" y1="549" x2="240.5" y2="551.3" stroke="#a9a9a9" stroke-width="0.8"/>
<line x1="252.9" y1="549" x2="252.9" y2="551.3" stroke="#a9a9a9" stroke-width="0.8"/>
<text x="252.9" y="560.3" font-size="6.2" text-anchor="middle" font-weight="normal" fill="#1c1c1c">19</text>
<line x1="265.2" y1="549" x2="265.2" y2="551.3" stroke="#a9a9a9" stroke-width="0.8"/>
<line x1="277.6" y1="549" x2="277.6" y2="551.3" stroke="#a9a9a9" stroke-width="0.8"/>
<line x1="290" y1="549" x2="290" y2="551.3" stroke="#a9a9a9" stroke-width="0.8"/>
<text x="290" y="560.3" font-size="6.2" text-anchor="middle" font-weight="normal" fill="#1c1c1c">22</text>
<line x1="302.4" y1="549" x2="302.4" y2="551.3" stroke="#a9a9a9" stroke-width="0.8"/>
<line x1="314.8" y1="549" x2="314.8" y2="551.3" stroke="#a9a9a9" stroke-width="0.8"/>
<line x1="327.2" y1="549" x2="327.2" y2="551.3" stroke="#a9a9a9" stroke-width="0.8"/>
<text x="327.2" y="560.3" font-size="6.2" text-anchor="middle" font-weight="normal" fill="#1c1c1c">25</text>
<line x1="339.5" y1="549" x2="339.5" y2="551.3" stroke="#a9a9a9" stroke-width="0.8"/>
<line x1="351.9" y1="549" x2="351.9" y2="551.3" stroke="#a9a9a9" stroke-width="0.8"/>
<line x1="364.3" y1="549" x2="364.3" y2="551.3" stroke="#a9a9a9" stroke-width="0.8"/>
<text x="364.3" y="560.3" font-size="6.2" text-anchor="middle" font-weight="normal" fill="#1c1c1c">28</text>
<line x1="320.6" y1="519" x2="322.6" y2="519" stroke="#c4c4c4" stroke-width="0.6"/>
<text x="328.4" y="521.3" font-size="6.2" text-anchor="start" font-weight="normal" fill="#1c1c1c">1</text>
<line x1="321.8" y1="519.8" x2="323.8" y2="519.8" stroke="#c4c4c4" stroke-width="0.6"/>
<line x1="323" y1="520.7" x2="325" y2="520.7" stroke="#c4c4c4" stroke-width="0.6"/>
<line x1="324.3" y1="521.5" x2="326.3" y2="521.5" stroke="#c4c4c4" stroke-width="0.6"/>
<text x="332.1" y="523.8" font-size="6.2" text-anchor="start" font-weight="normal" fill="#1c1c1c">4</text>
<line x1="325.6" y1="522.4" x2="327.6" y2="522.4" stroke="#c4c4c4" stroke-width="0.6"/>
<line x1="326.9" y1="523.3" x2="328.9" y2="523.3" stroke="#c4c4c4" stroke-width="0.6"/>
<line x1="328.2" y1="524.2" x2="330.2" y2="524.2" stroke="#c4c4c4" stroke-width="0.6"/>
<text x="336" y="526.5" font-size="6.2" text-anchor="start" font-weight="normal" fill="#1c1c1c">7</text>
<line x1="329.6" y1="525.2" x2="331.6" y2="525.2" stroke="#c4c4c4" stroke-width="0.6"/>
<line x1="331" y1="526.1" x2="333" y2="526.1" stroke="#c4c4c4" stroke-width="0.6"/>
<line x1="332.4" y1="527.1" x2="334.4" y2="527.1" stroke="#c4c4c4" stroke-width="0.6"/>
<text x="340.2" y="529.4" font-size="6.2" text-anchor="start" font-weight="normal" fill="#1c1c1c">10</text>
<line x1="333.8" y1="528.1" x2="335.8" y2="528.1" stroke="#c4c4c4" stroke-width="0.6"/>
<line x1="335.3" y1="529.1" x2="337.3" y2="529.1" stroke="#c4c4c4" stroke-width="0.6"/>
<line x1="336.8" y1="530.1" x2="338.8" y2="530.1" stroke="#c4c4c4" stroke-width="0.6"/>
<text x="344.6" y="532.4" font-size="6.2" text-anchor="start" font-weight="normal" fill="#1c1c1c">13</text>
<line x1="338.4" y1="531.2" x2="340.4" y2="531.2" stroke="#c4c4c4" stroke-width="0.6"/>
<line x1="340" y1="532.3" x2="342" y2="532.3" stroke="#c4c4c4" stroke-width="0.6"/>
<line x1="341.6" y1="533.4" x2="343.6" y2="533.4" stroke="#c4c4c4" stroke-width="0.6"/>
<text x="349.4" y="535.7" font-size="6.2" text-anchor="start" font-weight="normal" fill="#1c1c1c">16</text>
<line x1="343.2" y1="534.5" x2="345.2" y2="534.5" stroke="#c4c4c4" stroke-width="0.6"/>
<line x1="344.9" y1="535.7" x2="346.9" y2="535.7" stroke="#c4c4c4" stroke-width="0.6"/>
<line x1="346.6" y1="536.9" x2="348.6" y2="536.9" stroke="#c4c4c4" stroke-width="0.6"/>
<text x="354.4" y="539.2" font-size="6.2" text-anchor="start" font-weight="normal" fill="#1c1c1c">19</text>
<line x1="348.4" y1="538.1" x2="350.4" y2="538.1" stroke="#c4c4c4" stroke-width="0.6"/>
<line x1="350.2" y1="539.3" x2="352.2" y2="539.3" stroke="#c4c4c4" stroke-width="0.6"/>
<line x1="352.1" y1="540.6" x2="354.1" y2="540.6" stroke="#c4c4c4" stroke-width="0.6"/>
<text x="359.9" y="542.9" font-size="6.2" text-anchor="start" font-weight="normal" fill="#1c1c1c">22</text>
<line x1="354" y1="541.9" x2="356" y2="541.9" stroke="#c4c4c4" stroke-width="0.6"/>
<line x1="356" y1="543.3" x2="358" y2="543.3" stroke="#c4c4c4" stroke-width="0.6"/>
<line x1="358" y1="544.7" x2="360" y2="544.7" stroke="#c4c4c4" stroke-width="0.6"/>
<text x="365.8" y="547" font-size="6.2" text-anchor="start" font-weight="normal" fill="#1c1c1c">25</text>
<line x1="360" y1="546.1" x2="362" y2="546.1" stroke="#c4c4c4" stroke-width="0.6"/>
<line x1="362.1" y1="547.5" x2="364.1" y2="547.5" stroke="#c4c4c4" stroke-width="0.6"/>
<line x1="364.3" y1="549" x2="366.3" y2="549" stroke="#c4c4c4" stroke-width="0.6"/>
<text x="366.4" y="551.3" font-size="6.2" text-anchor="start" font-weight="normal" fill="#1c1c1c">28</text>
<path d="M61.1 522.7 L56 527.6 L50 532.7 L42.2 538.8 L30 547.8 L63 548.2 L129.1 548.5 L364.3 548.8 L341.6 532.8 L330.1 524.2 L323.9 518.7 L321.8 516.2 L320.6 513.9 L262.7 512.5 L217 510.8 L177.5 508.7 L147 506.4 L122.6 503.7 L110.5 501.9 L101.3 500.2 L92.2 498.1 L86.1 496.3 L80 494 L73.9 491 L72.2 501.5 L71 506.2 L69.7 509.6 L68 513.3 L66.2 516.2 L63.9 519.4Z" fill="url(#gc)"/>
<path d="M73.9 490.9 L73 497.5 L71.9 502.6 L72.4 502.9 L72.6 502.7 L73.5 503 L73.6 502.8 L74 502.9 L74.1 502.7 L74.5 502.8 L74.6 502.6 L75.5 502.8 L75.6 502.6 L76.1 502.7 L76.1 502.5 L77 502.8 L77.1 502.5 L78 502.8 L78.1 502.5 L78.6 502.6 L78.6 502.4 L79.5 502.6 L79.6 502.4 L80.5 502.6 L80.6 502.4 L81.4 502.6 L81.6 502.3 L82.4 502.6 L82.6 502.3 L83.4 502.5 L83.5 502.2 L84.4 502.5 L84.5 502.2 L85.8 502.5 L85.9 502.2 L86.8 502.4 L86.9 502.2 L87.8 502.4 L87.9 502.1 L89.2 502.4 L89.3 502.1 L90.6 502.4 L90.8 502.1 L91.6 502.3 L91.7 502 L93 502.3 L93.2 501.9 L94.5 502.2 L94.6 501.9 L95.9 502.2 L96 501.9 L97.8 502.2 L97.9 501.9 L99.2 502.2 L99.3 501.8 L100.6 502.1 L100.7 501.7 L102.5 502.1 L102.6 501.7 L104.4 502.1 L104.5 501.7 L106.2 502 L106.4 501.7 L108.2 501.9 L108.2 501.5 L96.3 499.1 L86.3 496.3 L79.4 493.7Z" fill="#b8403c"/>
</g>
<g id="labels">
<text x="0.3" y="14.3" font-size="19.5" text-anchor="start" font-weight="bold" fill="#111">a</text>
<text x="394.2" y="14.2" font-size="19" text-anchor="start" font-weight="bold" fill="#111">b</text>
<text x="0.3" y="312.6" font-size="19.2" text-anchor="start" font-weight="bold" fill="#111">c</text>
<text x="211.2" y="10.7" font-size="12" text-anchor="middle" font-weight="bold" fill="#111" textLength="65.6" lengthAdjust="spacingAndGlyphs">DAS28 = 3.2</text>
<text x="596.5" y="10.2" font-size="12" text-anchor="middle" font-weight="bold" fill="#111" textLength="64.5" lengthAdjust="spacingAndGlyphs">DAS28 = 3.2</text>
<text x="194.4" y="308.2" font-size="12" text-anchor="middle" font-weight="bold" fill="#111" textLength="64.7" lengthAdjust="spacingAndGlyphs">DAS28 = 3.2</text>
<text x="1" y="52.8" font-size="9.9" text-anchor="start" font-weight="normal" fill="#222" textLength="16.8" lengthAdjust="spacingAndGlyphs">ESR</text>
<text x="91.7" y="273" font-size="10.2" text-anchor="start" font-weight="normal" fill="#222" textLength="14.6" lengthAdjust="spacingAndGlyphs">TJC</text>
<text x="355" y="245" font-size="10.2" text-anchor="start" font-weight="normal" fill="#222" textLength="15.5" lengthAdjust="spacingAndGlyphs">SJC</text>
<text x="398.2" y="47.6" font-size="10.2" text-anchor="start" font-weight="normal" fill="#222" textLength="17.4" lengthAdjust="spacingAndGlyphs">ESR</text>
<text x="591.4" y="273.2" font-size="10.2" text-anchor="start" font-weight="normal" fill="#222" textLength="14.5" lengthAdjust="spacingAndGlyphs">TJC</text>
<text x="769" y="230.6" font-size="10.2" text-anchor="start" font-weight="normal" fill="#222" textLength="14.5" lengthAdjust="spacingAndGlyphs">SJC</text>
<text x="1" y="342.6" font-size="9.9" text-anchor="start" font-weight="normal" fill="#222" textLength="17" lengthAdjust="spacingAndGlyphs">ESR</text>
<text x="187.8" y="577.5" font-size="10.8" text-anchor="start" font-weight="normal" fill="#222" textLength="15.3" lengthAdjust="spacingAndGlyphs">TJC</text>
<text x="369" y="529.6" font-size="10.2" text-anchor="start" font-weight="normal" fill="#222" textLength="15.2" lengthAdjust="spacingAndGlyphs">SJC</text>
<rect x="367.8" y="98.7" width="3.2" height="3.2" fill="#9c2a28"/>
<text x="372.7" y="102.1" font-size="4.8" text-anchor="start" font-weight="normal" fill="#3a3a3a">10-20</text>
<rect x="367.8" y="118.2" width="3.2" height="3.2" fill="#3f6ea8"/>
<text x="372.7" y="121.6" font-size="4.8" text-anchor="start" font-weight="normal" fill="#3a3a3a">0-10</text>
<rect x="766.4" y="119.7" width="3.2" height="3.2" fill="#9c2a28"/>
<text x="771.3" y="123.1" font-size="4.8" text-anchor="start" font-weight="normal" fill="#3a3a3a">10-20</text>
<rect x="766.4" y="138.1" width="3.2" height="3.2" fill="#3f6ea8"/>
<text x="771.3" y="141.5" font-size="4.8" text-anchor="start" font-weight="normal" fill="#3a3a3a">0-10</text>
<rect x="363.3" y="428.2" width="3.2" height="3.2" fill="#9c2a28"/>
<text x="368.2" y="431.6" font-size="4.8" text-anchor="start" font-weight="normal" fill="#3a3a3a">10-20</text>
<rect x="363.3" y="447.3" width="3.2" height="3.2" fill="#3f6ea8"/>
<text x="368.2" y="450.7" font-size="4.8" text-anchor="start" font-weight="normal" fill="#3a3a3a">0-10</text>
</g>
</svg>
</body></html>
